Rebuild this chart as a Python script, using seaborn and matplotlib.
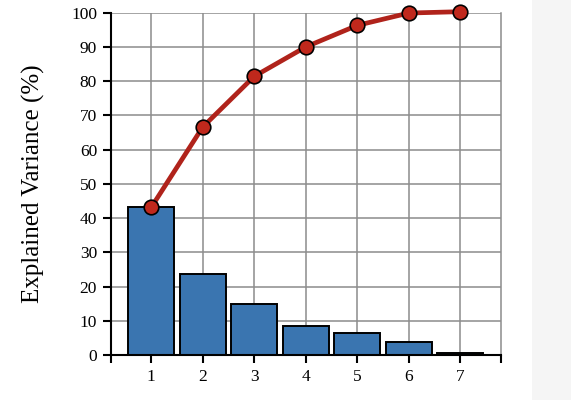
import matplotlib
matplotlib.use("Agg")
import matplotlib.pyplot as plt
import seaborn as sns
import pandas as pd
from matplotlib.patches import Rectangle

components = [1, 2, 3, 4, 5, 6, 7]
explained = [43.1, 23.6, 14.9, 8.6, 6.3, 3.8, 0.5]
cumulative = [43.1, 66.6, 81.4, 90.0, 96.3, 99.9, 100.3]
y_ticks = [0, 10, 20, 30, 40, 50, 60, 70, 80, 90, 100]
y_label = "Explained Variance (%)"

df = pd.DataFrame({"component": components, "explained": explained, "cumulative": cumulative})

sns.set_style("ticks")
plt.rcParams["font.family"] = ["Liberation Serif", "DejaVu Serif"]

fig = plt.figure(figsize=(5.71, 4.0), dpi=100)
fig.patches.append(Rectangle((532 / 571, 0), 1, 1, transform=fig.transFigure,
                             facecolor="#f5f5f5", edgecolor="none", zorder=0))
ax = fig.add_axes([111 / 571, 45 / 400, (500.5 - 111) / 571, (355 - 12.7) / 400])
ax.set_facecolor("white")

sns.barplot(data=df, x="component", y="explained", native_scale=True, width=0.9,
            color="#3a75b0", saturation=1, edgecolor="black", linewidth=1.4, ax=ax, zorder=2)
sns.lineplot(data=df, x="component", y="cumulative", color="#b0231b", linewidth=3.4,
             marker="o", markersize=10.5, markerfacecolor="#c0281c", markeredgecolor="black",
             markeredgewidth=1.2, ax=ax, zorder=4, clip_on=False)

ax.set_xlim(0.22, 7.78)
ax.set_ylim(0, 100)
ax.set_xticks(components)
ax.set_xticks([0.22, 7.78], minor=True)
ax.set_yticks(y_ticks)
ax.set_yticks([], minor=True)
ax.grid(True, which="major", color="#8c8c8c", linewidth=1.1)
ax.set_axisbelow(True)

ax.spines["top"].set_visible(False)
ax.spines["right"].set_visible(True)
ax.spines["right"].set_color("#8c8c8c")
ax.spines["right"].set_linewidth(1.1)
for s in ["left", "bottom"]:
    ax.spines[s].set_color("black")
    ax.spines[s].set_linewidth(1.5)
    ax.spines[s].set_zorder(5)

ax.tick_params(axis="both", which="major", direction="out", length=6, width=1.5,
               color="black", labelsize=12.5, labelcolor="black", pad=4,
               left=True, bottom=True, right=False, top=False)
ax.tick_params(axis="x", which="minor", direction="out", length=6, width=1.5,
               color="black", bottom=True, labelbottom=False)

ax.set_xlabel("")
ax.set_ylabel(y_label, fontsize=18, color="black", labelpad=19)

fig.savefig("out.png", dpi=100)
